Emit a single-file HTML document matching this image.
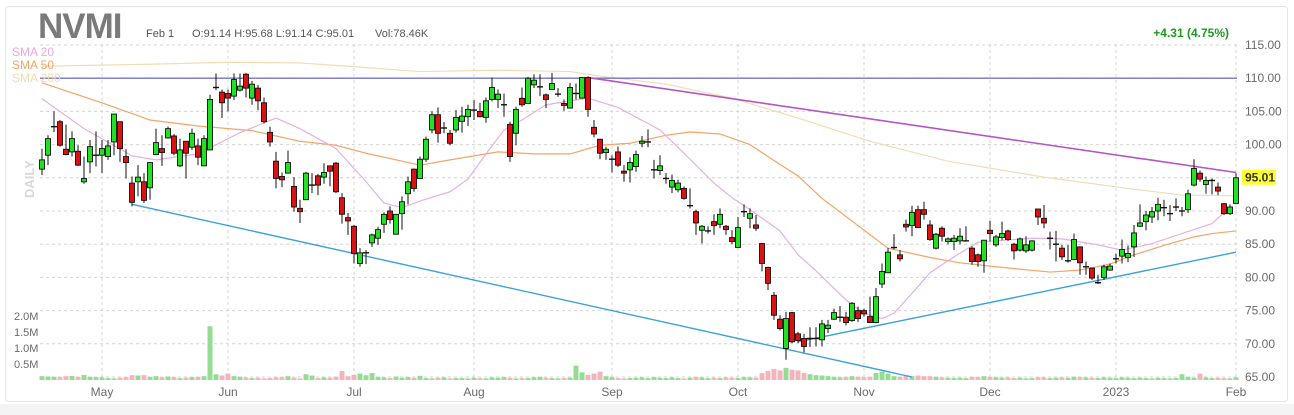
<!DOCTYPE html>
<html><head><meta charset="utf-8"><style>
body{margin:0;background:#fff;font-family:"Liberation Sans",sans-serif;}
svg{display:block}
</style></head><body>
<svg id="chart" width="1294" height="415" xmlns="http://www.w3.org/2000/svg">
<rect x="5.5" y="6.5" width="1282" height="395" fill="#fff" stroke="#e6e6e6" rx="3"/>
<rect x="0" y="404" width="1294" height="11" fill="#f4f4f4"/>
<g id="grid"></g>
<g id="vol"></g>
<g id="smas"></g>
<g id="trend"></g>
<g id="candles"></g>
<g id="labels"></g>
<text x="38" y="38" font-size="35" font-weight="bold" fill="#7a7a7a" letter-spacing="-1">NVMI</text>
<text x="146" y="37" font-size="11" fill="#555">Feb 1</text>
<text x="192" y="37" font-size="11" fill="#555">O:91.14  H:95.68  L:91.14  C:95.01</text>
<text x="375" y="37" font-size="11" fill="#555">Vol:78.46K</text>
<text x="1229" y="37" font-size="12" font-weight="bold" fill="#1f9a1f" text-anchor="end">+4.31 (4.75%)</text>
<text x="12" y="56" font-size="12" fill="#e8a8e0">SMA 20</text>
<text x="12" y="69" font-size="12" fill="#f4a468">SMA 50</text>
<text x="12" y="82" font-size="12" fill="#f0dcb0">SMA 200</text>
<text transform="translate(34,198) rotate(-90)" font-size="13" font-weight="bold" fill="#d8d8d8">DAILY</text>
</svg>
<script>
const opens=[96.3,98.4,102.7,103.45,99.3,98.9,99.0,94.4,97.4,98.4,98.4,98.2,100.4,103.45,98.2,94.2,94.4,94.4,93.5,98.5,99.4,101.0,101.3,96.8,100.5,99.6,99.8,96.8,99.2,108.6,107.9,107.7,107.3,108.2,110.6,107.0,108.5,106.3,101.85,97.5,95.2,95.7,93.7,90.4,91.7,93.9,95.3,95.1,96.8,97.2,92.0,89.0,87.7,82.1,83.7,85.2,85.9,88.0,90.0,86.5,89.6,92.6,96.3,94.9,97.8,102.2,104.5,102.5,101.7,102.2,103.5,104.2,105.2,105.0,104.1,106.8,106.8,106.0,103.05,101.7,106.97,106.2,109.0,108.7,107.5,108.3,107.6,106.2,105.5,107.7,107.0,110.1,102.6,100.8,98.8,97.8,98.9,96.0,96.2,96.7,100.2,100.4,96.2,96.1,94.9,93.6,93.2,93.4,90.8,89.9,87.1,87.0,88.4,88.0,87.7,86.0,84.5,89.9,88.9,87.9,85.1,81.5,77.3,73.7,69.3,74.7,71.5,70.8,70.8,70.8,70.6,72.3,73.7,74.0,74.0,73.5,75.0,75.0,74.1,73.2,79.0,80.7,84.5,83.4,88.0,87.8,90.2,90.2,87.9,84.4,87.4,85.4,85.4,85.5,85.5,84.4,83.4,82.5,87.1,84.9,86.0,87.0,85.0,84.1,84.0,84.1,90.3,88.9,85.9,85.0,84.4,82.5,82.7,84.6,81.6,81.4,79.2,80.0,81.1,82.8,83.2,83.0,84.6,87.7,88.4,89.1,90.0,90.5,89.6,90.6,90.0,90.2,93.9,95.7,94.0,94.6,93.6,91.1,89.6,91.14];
const highs=[99.4,101.4,105.0,103.7,103.0,102.0,99.9,98.2,100.7,102.0,100.7,100.7,104.6,103.45,99.3,95.2,96.9,95.7,97.3,102.4,101.4,102.7,101.6,100.9,100.5,102.4,100.9,101.4,107.5,110.7,108.3,108.3,110.7,110.7,110.8,109.6,109.0,107.1,102.7,98.9,95.8,99.1,95.1,91.7,95.9,95.7,95.6,97.2,96.8,97.4,92.7,89.7,87.9,84.4,84.1,86.6,87.6,89.8,90.7,89.5,92.2,95.2,96.4,98.2,101.2,105.0,105.6,103.4,102.2,105.2,105.7,106.0,106.7,106.3,107.1,110.1,108.3,107.7,103.45,105.7,108.6,110.2,110.6,110.6,107.7,110.8,108.5,106.8,109.3,109.2,110.2,110.3,103.7,100.9,99.7,98.4,99.7,96.9,98.1,99.1,101.3,102.3,97.7,98.4,95.7,95.5,94.7,93.7,93.4,90.2,87.9,87.7,89.5,90.4,87.9,87.1,89.1,91.0,90.4,89.4,85.2,81.6,77.8,74.3,74.8,74.8,71.8,71.5,72.5,72.5,73.6,73.6,75.3,75.7,74.8,76.3,75.6,75.3,77.1,78.4,82.1,84.4,86.5,84.1,88.7,90.8,90.8,91.4,88.6,86.7,87.7,86.0,86.4,87.4,87.7,84.7,83.6,85.6,88.5,86.4,88.4,87.2,85.2,86.0,86.2,85.6,90.3,90.9,86.9,87.0,84.9,84.9,86.6,84.7,82.4,81.5,80.4,81.9,82.1,83.6,85.7,84.8,87.9,91.0,90.0,90.6,92.0,91.7,90.9,91.9,90.6,93.2,97.8,96.1,95.2,94.9,94.3,91.2,91.0,95.68];
const lows=[95.4,96.9,101.9,99.7,98.4,98.2,96.8,94.1,95.7,96.7,95.7,97.7,98.4,97.4,94.9,90.7,92.2,91.2,91.7,98.5,96.8,100.9,98.4,96.6,94.9,99.2,96.9,96.8,99.2,108.2,104.0,105.0,106.7,108.0,107.1,106.0,105.2,103.2,99.7,93.4,93.6,95.7,89.9,88.2,91.7,92.7,92.4,94.1,93.7,92.7,88.1,86.4,82.1,81.6,82.0,84.6,84.9,86.7,88.1,86.5,87.2,91.0,92.9,94.9,97.4,101.7,100.3,101.7,99.9,101.8,101.8,102.8,103.7,104.1,103.3,106.5,105.5,104.2,97.4,99.9,105.7,106.2,108.5,107.3,105.5,108.3,107.2,105.1,105.5,106.8,107.0,104.2,101.1,97.8,97.7,95.8,96.6,94.4,94.3,95.9,99.6,99.6,94.9,95.4,94.1,92.7,92.8,91.7,90.4,86.4,85.1,86.6,86.4,87.4,86.4,85.0,84.5,89.1,87.4,87.0,80.9,78.1,73.6,72.0,67.6,70.1,70.1,68.7,69.5,69.6,69.6,71.6,73.6,73.3,72.8,73.3,73.3,74.1,73.2,73.1,78.4,80.7,84.2,82.4,86.9,86.2,87.5,88.7,85.5,84.2,85.4,85.0,84.1,85.0,85.4,81.9,81.6,80.7,85.4,84.6,85.6,85.5,82.7,83.9,83.7,83.9,87.9,87.4,84.2,82.4,82.6,82.2,82.6,80.4,80.4,79.6,79.0,79.6,81.0,82.1,82.1,82.3,83.1,87.6,87.1,88.2,88.6,89.2,88.5,90.0,89.2,89.7,93.7,94.4,92.6,92.5,92.4,89.4,89.4,91.14];
const closes=[97.7,100.9,102.7,99.9,98.5,100.9,96.9,94.9,99.7,98.4,99.4,99.8,104.6,99.4,97.3,91.3,95.1,91.6,97.3,100.3,98.8,102.4,98.7,99.2,98.7,101.7,98.1,100.9,106.8,108.6,106.3,107.0,109.8,108.8,108.5,109.1,106.6,103.45,100.4,94.9,94.7,97.3,90.6,89.9,95.7,93.9,93.9,95.8,96.0,92.9,89.5,88.5,83.6,83.7,83.7,86.4,87.2,89.5,88.7,89.5,91.4,94.4,93.4,97.8,100.8,104.5,101.7,102.5,100.2,104.1,104.3,105.3,105.2,104.2,106.6,108.6,107.6,106.0,98.2,105.3,106.0,110.0,109.7,108.7,106.8,109.2,107.6,105.9,108.6,107.7,110.1,105.3,101.6,98.7,99.3,97.8,96.9,95.7,97.3,98.5,100.5,100.4,96.2,96.8,94.9,94.6,94.2,91.9,90.8,88.2,87.7,87.0,87.8,89.5,87.2,85.4,87.5,89.9,89.6,87.4,82.1,79.1,74.3,72.3,73.8,70.3,70.5,69.6,70.8,70.8,73.0,72.8,74.7,74.0,73.2,76.1,73.8,74.5,73.2,77.1,80.9,83.8,84.5,82.8,87.6,89.8,87.5,89.5,85.7,86.5,86.2,85.8,85.9,86.2,85.5,82.4,82.4,85.6,86.6,86.1,86.6,85.7,84.0,85.8,84.9,85.5,89.1,88.2,85.9,85.0,83.1,82.5,85.7,82.2,81.6,79.9,79.2,81.6,81.7,82.8,84.2,83.6,86.7,88.2,89.4,89.9,91.0,90.5,89.6,90.6,90.0,92.6,96.4,94.8,94.6,94.6,93.0,89.6,90.6,95.01];
const volumes=[0.12,0.11,0.1,0.09,0.12,0.13,0.1,0.16,0.1,0.09,0.08,0.06,0.05,0.07,0.09,0.15,0.14,0.15,0.1,0.12,0.08,0.11,0.09,0.06,0.07,0.09,0.1,0.12,1.68,0.18,0.14,0.2,0.12,0.1,0.08,0.06,0.07,0.05,0.06,0.08,0.09,0.12,0.07,0.05,0.18,0.14,0.06,0.08,0.07,0.1,0.28,0.12,0.16,0.2,0.15,0.22,0.1,0.08,0.06,0.11,0.07,0.09,0.07,0.13,0.06,0.05,0.07,0.08,0.05,0.06,0.06,0.05,0.07,0.06,0.05,0.08,0.07,0.09,0.07,0.05,0.06,0.06,0.08,0.1,0.07,0.06,0.05,0.06,0.07,0.45,0.24,0.16,0.2,0.26,0.12,0.09,0.06,0.05,0.06,0.07,0.08,0.06,0.09,0.07,0.06,0.08,0.06,0.05,0.07,0.1,0.08,0.06,0.07,0.06,0.08,0.07,0.06,0.09,0.08,0.07,0.22,0.28,0.34,0.3,0.38,0.32,0.3,0.22,0.18,0.15,0.14,0.12,0.1,0.08,0.1,0.12,0.1,0.08,0.1,0.22,0.26,0.2,0.12,0.1,0.16,0.12,0.14,0.12,0.12,0.1,0.08,0.07,0.06,0.07,0.06,0.1,0.09,0.12,0.1,0.08,0.07,0.08,0.06,0.07,0.05,0.06,0.09,0.08,0.06,0.07,0.08,0.07,0.1,0.09,0.08,0.07,0.06,0.08,0.07,0.06,0.08,0.07,0.06,0.07,0.06,0.05,0.07,0.06,0.05,0.06,0.18,0.1,0.07,0.2,0.08,0.06,0.07,0.06,0.05,0.08];
const priceTicks=[115,110,105,100,95,90,85,80,75,70,65];
const volTicks=[0.5,1.0,1.5,2.0];
const monthLabels=["May","Jun","Jul","Aug","Sep","Oct","Nov","Dec","2023","Feb"];
const monthIndex=[10,31,52,72,95,116,137,158,179,199];
const resistanceLevel=110;
const sma20Idx=[0,7,15,19,26,28,33,39,43,49,54,57,60,63,68,71,74,77,80,84,91,96,103,108,112,115,118,123,126,129,134,137,140,142,145,148,152,156,165,170,176,180,185,190,195,198];
const sma20Val=[106.9,102.4,98.3,97.7,98.6,99.5,101.8,104.0,102.4,99.4,94.4,91.2,90.5,91.5,92.9,94.8,98.6,102.2,103.7,106.0,107.0,105.6,102.2,97.8,94.2,92.0,90.2,87.0,83.4,81.0,76.6,74.6,73.8,74.6,77.6,80.7,83.1,85.3,85.9,85.8,84.9,84.1,85.1,86.6,88.1,90.6];
const sma50Idx=[0,10,18,26,35,43,49,54,63,68,76,82,88,93,98,104,108,113,118,123,126,130,136,141,148,153,159,168,173,178,182,188,192,195,199];
const sma50Val=[109.3,106.3,103.7,102.8,102.1,100.5,99.9,98.7,96.9,97.7,98.9,98.6,98.6,99.9,100.2,101.4,101.9,101.6,100.0,97.0,95.3,91.9,87.8,84.4,83.0,82.2,81.6,80.8,81.1,82.0,83.4,85.1,86.1,86.6,87.0];
const sma200Idx=[0,18,31,43,51,63,76,88,93,104,115,126,138,151,167,181,190,199];
const sma200Val=[111.8,112.1,112.4,112.3,111.8,111.0,111.2,111.0,110.3,109.1,107.0,104.0,100.5,97.5,95.1,93.4,92.4,92.3];
const trendLines=[
 {name:'upper-resistance-trendline',color:'#b455c8',w:1.6,p:[[91,110.1],[199,95.8]]},
 {name:'lower-support-trendline',color:'#3aa2dc',w:1.4,p:[[15,91.0],[145,65.0]]},
 {name:'rising-support-trendline',color:'#3aa2dc',w:1.4,p:[[126,70.3],[199,83.8]]}
];

const NS='http://www.w3.org/2000/svg';
const X0=42,STEP=6.0,PLOT_L=40,PLOT_R=1237;
const yTop=45,pxPer=6.64,VBASE=380,VPX=32;
function xs(i){return X0+i*STEP;}
function ys(p){return yTop+(115-p)*pxPer;}
function yv(v){return VBASE-v*VPX;}
function mk(tag,attrs,parent){const e=document.createElementNS(NS,tag);for(const k in attrs)e.setAttribute(k,attrs[k]);parent.appendChild(e);return e;}

const grid=document.getElementById('grid');
const labels=document.getElementById('labels');
priceTicks.forEach(p=>{
  const l=mk('line',{x1:PLOT_L,x2:PLOT_R,y1:ys(p),y2:ys(p),stroke:'#d4d4d4','stroke-dasharray':'3,3'},grid);
  
  
  const t=mk('text',{x:1245,y:ys(p)+4,'font-size':12,fill:'#6a6a6a'},labels);
  t.textContent=p.toFixed(2);
  
  
});
monthIndex.forEach((mi,k)=>{
  const x=xs(mi);
  const l=mk('line',{x1:x,x2:x,y1:44,y2:380,stroke:'#d4d4d4','stroke-dasharray':'3,3'},grid);
  
  
  const t=mk('text',{x:x,y:396,'font-size':12,fill:'#6a6a6a','text-anchor':'middle'},labels);
  t.textContent=monthLabels[k];
  
  
});
volTicks.forEach(v=>{
  const t=mk('text',{x:14,y:yv(v)+4,'font-size':11,fill:'#6a6a6a'},labels);
  t.textContent=v.toFixed(1)+'M';
  
  
});
const lp=closes[closes.length-1];
const badge=mk('rect',{x:1242,y:ys(lp)-8,width:34,height:15,fill:'#ffff33'},labels);


const bt=mk('text',{x:1245,y:ys(lp)+4,'font-size':12,'font-weight':'bold',fill:'#333'},labels);
bt.textContent=lp.toFixed(2);



const vol=document.getElementById('vol');
volumes.forEach((v,i)=>{
  const up=closes[i]>=opens[i];
  const r=mk('rect',{x:xs(i)-2.5,y:yv(v),width:5,height:VBASE-yv(v),fill:up?'#94dc94':'#f4b4bc'},vol);
  
  
});

const smas=document.getElementById('smas');
function drawLine(idx,val,color,name){
  const pts=idx.map((d,k)=>xs(d)+','+ys(val[k])).join(' ');
  const pl=mk('polyline',{points:pts,fill:'none',stroke:color,'stroke-width':1.2,'stroke-linejoin':'round'},smas);
  
  
}
drawLine(sma200Idx,sma200Val,'#f2dcb4','sma-200-line');
drawLine(sma50Idx,sma50Val,'#f4a468','sma-50-line');
drawLine(sma20Idx,sma20Val,'#e8b0e0','sma-20-line');

const trend=document.getElementById('trend');
const hl=mk('line',{x1:PLOT_L,x2:PLOT_R,y1:ys(resistanceLevel),y2:ys(resistanceLevel),stroke:'#7474c4','stroke-width':1.3},trend);


trendLines.forEach(t=>{
  const ln=mk('line',{x1:xs(t.p[0][0]),y1:ys(t.p[0][1]),x2:xs(t.p[1][0]),y2:ys(t.p[1][1]),stroke:t.color,'stroke-width':t.w},trend);
  
  
});

const cg=document.getElementById('candles');
opens.forEach((o,i)=>{
  const c=closes[i],x=xs(i);
  const g=mk('g',{},cg);
  
  
  mk('line',{x1:x,x2:x,y1:ys(highs[i]),y2:ys(lows[i]),stroke:'#111','stroke-width':1},g);
  const top=ys(Math.max(o,c)),bot=ys(Math.min(o,c));
  if(bot-top<1.2){
    mk('line',{x1:x-3,x2:x+3,y1:top,y2:top,stroke:'#111','stroke-width':1.4},g);
  }else{
    mk('rect',{x:x-2.5,y:top,width:5,height:bot-top,fill:c>=o?'#22e022':'#dd1111',stroke:'#111','stroke-width':0.9},g);
  }
});
</script>
</body></html>
